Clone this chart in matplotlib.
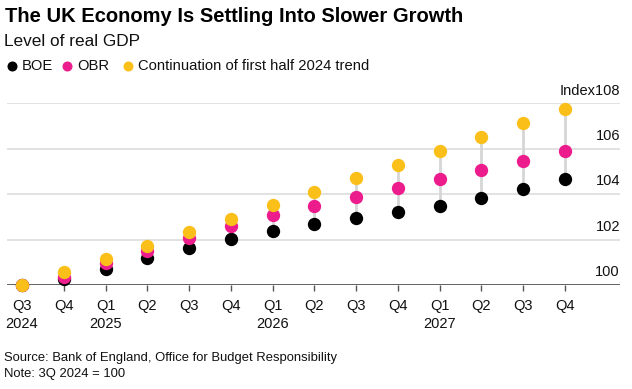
import matplotlib
matplotlib.use("Agg")
import matplotlib.pyplot as plt
import numpy as np

plt.rcParams['font.family'] = ['Liberation Sans', 'DejaVu Sans']

quarters = ["Q3", "Q4", "Q1", "Q2", "Q3", "Q4", "Q1", "Q2", "Q3", "Q4", "Q1", "Q2", "Q3", "Q4"]
years = ["2024", "", "2025", "", "", "", "2026", "", "", "", "2027", "", "", ""]
boe = [100.0, 100.28, 100.72, 101.17, 101.63, 102.04, 102.38, 102.67, 102.94, 103.2, 103.49, 103.85, 104.24, 104.67]
obr = [100.0, 100.37, 100.95, 101.51, 102.07, 102.6, 103.07, 103.48, 103.86, 104.26, 104.67, 105.08, 105.48, 105.89]
trend = [100.0, 100.57, 101.16, 101.73, 102.32, 102.92, 103.51, 104.08, 104.7, 105.3, 105.9, 106.52, 107.12, 107.74]
yticks = [100, 102, 104, 106, 108]

C_BLACK = "#000000"
C_PINK = "#ec1c8c"
C_YELLOW = "#fbbf1a"

W, H = 632, 389
fig = plt.figure(figsize=(W / 100, H / 100), dpi=100)
ax = fig.add_axes([7 / W, 1 - 285 / H, (620 - 7) / W, (285 - 103.3) / H])

x = np.arange(len(quarters))
ax.set_xlim(-0.36, 14.32)
ax.set_ylim(100, 108)

for yv in yticks[1:]:
    ax.axhline(yv, color="#e2e2e2", lw=1.4, zorder=0)
ax.axhline(100, color="#555555", lw=1.3, zorder=1)

lo = np.minimum(np.minimum(boe, obr), trend)
hi = np.maximum(np.maximum(boe, obr), trend)
ax.vlines(x, lo, hi, color="#d6d6d6", lw=2, zorder=2)

ms = 92
ax.scatter(x, boe, s=ms, color=C_BLACK, zorder=3, linewidths=0, clip_on=False)
ax.scatter(x, obr, s=ms, color=C_PINK, zorder=4, linewidths=0, clip_on=False)
ax.scatter(x, trend, s=ms, color=C_YELLOW, zorder=5, linewidths=0, clip_on=False)

for s in ax.spines.values():
    s.set_visible(False)
ax.set_yticks([])
ax.set_xticks(x)
ax.set_xticklabels([q + ("\n" + y if y else "") for q, y in zip(quarters, years)],
                   fontsize=10.5, color="#111111", linespacing=1.35, va="top")
ax.tick_params(axis="x", length=4, width=1, color="#555555", pad=6)

for yv in yticks:
    lab = str(yv)
    if yv == 108:
        lab = "Index" + lab
    ax.text(1.0, yv + 0.25, lab, transform=ax.get_yaxis_transform(), ha="right", va="bottom",
            fontsize=10.5, color="#111111")

fig.text(5 / W, 1 - 16 / H, "The UK Economy Is Settling Into Slower Growth", fontsize=14.5,
         fontweight="bold", va="center", ha="left", color="#000000")
fig.text(4 / W, 1 - 41 / H, "Level of real GDP", fontsize=12.4, va="center", ha="left", color="#111111")

leg_y = 1 - 66 / H
items = [(12, 22, "BOE", C_BLACK), (67, 77, "OBR", C_PINK), (128, 138, "Continuation of first half 2024 trend", C_YELLOW)]
for mx, tx, lab, c in items:
    fig.add_artist(plt.Line2D([mx / W], [leg_y], marker="o", markersize=6.2, color=c, lw=0,
                              transform=fig.transFigure))
    fig.text(tx / W, leg_y, lab, fontsize=10.6, va="center", ha="left", color="#111111")

fig.text(4 / W, 1 - 358 / H, "Source: Bank of England, Office for Budget Responsibility", fontsize=9.4,
         va="center", ha="left", color="#111111")
fig.text(4 / W, 1 - 374 / H, "Note: 3Q 2024 = 100", fontsize=9.4, va="center", ha="left", color="#111111")

fig.savefig("out.png", dpi=100)
